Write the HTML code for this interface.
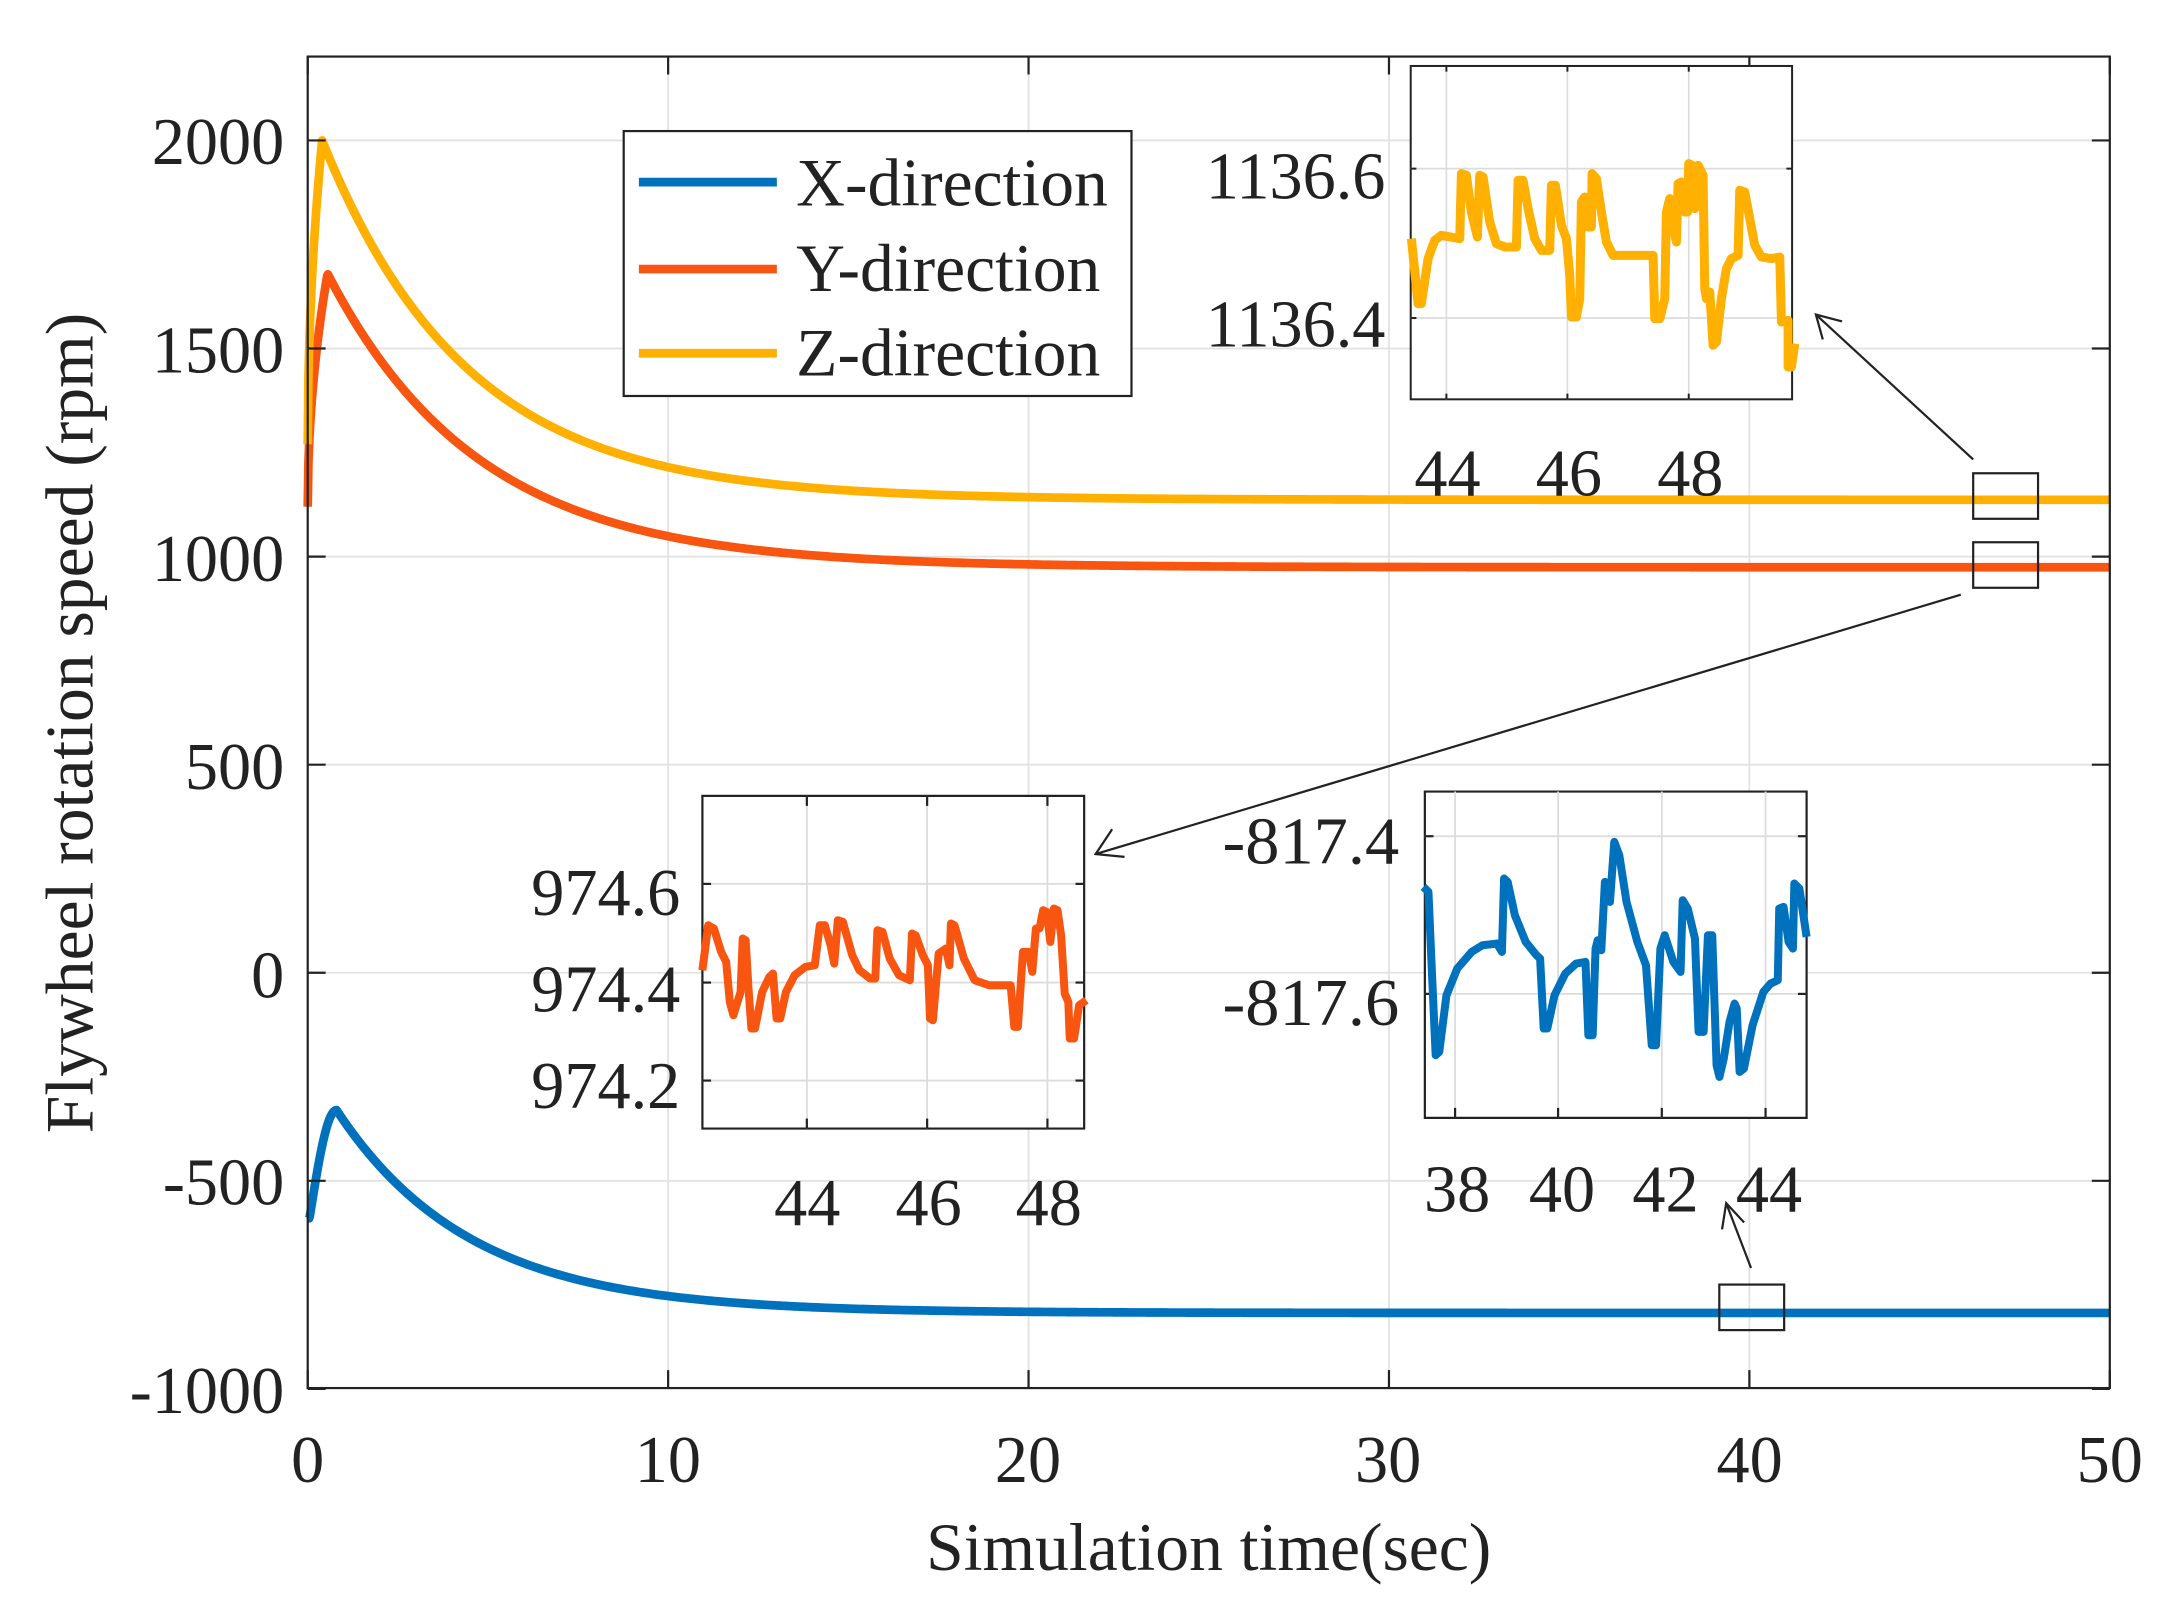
<!DOCTYPE html>
<html><head><meta charset="utf-8"><style>
html,body{margin:0;padding:0;background:#fff;}
svg{display:block;}
text{font-family:"Liberation Serif",serif;fill:#222;}
.ns{vector-effect:non-scaling-stroke;}
</style></head><body>
<svg width="2160" height="1608" viewBox="0 0 1556 1158.4" preserveAspectRatio="none" xmlns="http://www.w3.org/2000/svg">
<rect x="0" y="0" width="1556" height="1159" fill="#fff"/>
<g transform="translate(1,-1) scale(0.994)">
<g stroke="#e2e2e2" stroke-width="1.3" id="grid"></g>
<g id="curves" fill="none" stroke-width="6.3" stroke-linejoin="round"></g>
<rect x="222" y="42" width="1306" height="965" fill="none" stroke="#222" stroke-width="1.6"/>
<g id="ticks" stroke="#222" stroke-width="1.6"></g>
<g font-size="48" text-anchor="end">
<text x="205" y="120">2000</text><text x="205" y="271">1500</text><text x="205" y="422">1000</text>
<text x="205" y="573">500</text><text x="205" y="724">0</text><text x="205" y="874">-500</text><text x="205" y="1025">-1000</text>
</g>
<g font-size="48" text-anchor="middle">
<text x="222" y="1075">0</text><text x="483" y="1075">10</text><text x="744" y="1075">20</text>
<text x="1005" y="1075">30</text><text x="1267" y="1075">40</text><text x="1528" y="1075">50</text>
<text x="875" y="1139" font-size="49">Simulation time(sec)</text>
<text transform="translate(66,525) rotate(-90)" font-size="49">Flywheel rotation speed (rpm)</text>
</g>
<rect x="451" y="96" width="368" height="192" fill="#fff" stroke="#222" stroke-width="1.6"/>
<line x1="462" y1="133" x2="562" y2="133" stroke="#0072bd" stroke-width="6.3"/>
<line x1="462" y1="196" x2="562" y2="196" stroke="#f75510" stroke-width="6.3"/>
<line x1="462" y1="257" x2="562" y2="257" stroke="#ffb000" stroke-width="6.3"/>
<g font-size="49"><text x="576" y="150">X-direction</text><text x="576" y="212">Y-direction</text><text x="576" y="273">Z-direction</text></g>
<g fill="none" stroke="#222" stroke-width="1.6">
<rect x="1429" y="344" width="47" height="33"/><rect x="1429" y="394" width="47" height="33"/><rect x="1245" y="932" width="47" height="33"/>
<line x1="1429" y1="334" x2="1315" y2="229"/><polyline points="1320,247 1315,229 1334,234"/>
<line x1="1420" y1="432" x2="793" y2="620"/><polyline points="805,602 793,620 814,622"/>
<line x1="1268" y1="920" x2="1250" y2="873"/><polyline points="1247,892 1250,873 1263,887"/>
</g>
<g transform="translate(1014.6,43.5) scale(0.2416)">
<rect x="28" y="22" width="1144" height="1000" fill="#fff" stroke="#222" stroke-width="6"/>
<g stroke="#dcdcdc" stroke-width="5"><line x1="135" y1="22" x2="135" y2="1022"/><line x1="498" y1="22" x2="498" y2="1022"/><line x1="862" y1="22" x2="862" y2="1022"/><line x1="28" y1="330" x2="1172" y2="330"/><line x1="28" y1="778" x2="1172" y2="778"/></g>
<g stroke="#222" stroke-width="6"><line x1="135" y1="1022" x2="135" y2="1005"/><line x1="498" y1="1022" x2="498" y2="1005"/><line x1="862" y1="1022" x2="862" y2="1005"/><line x1="135" y1="22" x2="135" y2="39"/><line x1="498" y1="22" x2="498" y2="39"/><line x1="862" y1="22" x2="862" y2="39"/><line x1="28" y1="330" x2="45" y2="330"/><line x1="28" y1="778" x2="45" y2="778"/><line x1="1172" y1="330" x2="1155" y2="330"/><line x1="1172" y1="778" x2="1155" y2="778"/></g>
<polyline fill="none" stroke="#ffb000" stroke-width="27" stroke-linejoin="round" points="30,540 50,735 60,735 80,600 100,545 120,530 175,540 180,345 195,350 210,460 228,535 235,350 245,355 265,490 285,555 310,565 345,565 350,365 365,365 380,450 400,540 420,575 445,575 450,380 462,380 480,500 495,540 505,650 510,775 525,775 535,720 540,430 550,415 560,505 570,505 572,345 585,360 600,460 615,550 635,590 660,590 755,590 760,780 775,780 790,720 795,460 805,420 815,500 825,550 830,375 840,370 850,460 858,460 862,315 872,320 880,450 890,320 905,350 910,690 915,720 925,700 935,860 945,850 960,720 975,630 990,600 1010,590 1015,395 1030,400 1045,480 1060,560 1080,595 1110,600 1135,595 1140,790 1160,785 1160,925 1170,925 1180,855"/>
</g>
<g font-size="48"><text x="1003" y="145" text-anchor="end">1136.6</text><text x="1003" y="252" text-anchor="end">1136.4</text>
<text x="1048" y="360" text-anchor="middle">44</text><text x="1136" y="360" text-anchor="middle">46</text><text x="1224" y="360" text-anchor="middle">48</text></g>
<g transform="translate(507,572.5) scale(0.522,0.2416)">
<rect class="ns" x="2" y="22" width="530" height="998" fill="#fff" stroke="#222" stroke-width="2.2"/>
<g stroke="#dcdcdc" stroke-width="1.8"><line class="ns" x1="147" y1="22" x2="147" y2="1020"/><line class="ns" x1="314" y1="22" x2="314" y2="1020"/><line class="ns" x1="481" y1="22" x2="481" y2="1020"/><line class="ns" x1="2" y1="286" x2="532" y2="286"/><line class="ns" x1="2" y1="582" x2="532" y2="582"/><line class="ns" x1="2" y1="876" x2="532" y2="876"/></g>
<g stroke="#222" stroke-width="2.2"><line class="ns" x1="147" y1="1020" x2="147" y2="990"/><line class="ns" x1="314" y1="1020" x2="314" y2="990"/><line class="ns" x1="481" y1="1020" x2="481" y2="990"/><line class="ns" x1="147" y1="22" x2="147" y2="52"/><line class="ns" x1="314" y1="22" x2="314" y2="52"/><line class="ns" x1="481" y1="22" x2="481" y2="52"/><line class="ns" x1="532" y1="286" x2="520" y2="286"/><line class="ns" x1="532" y1="582" x2="520" y2="582"/><line class="ns" x1="532" y1="876" x2="520" y2="876"/><line class="ns" x1="2" y1="286" x2="14" y2="286"/><line class="ns" x1="2" y1="582" x2="14" y2="582"/><line class="ns" x1="2" y1="876" x2="14" y2="876"/></g>
<polyline class="ns" fill="none" stroke="#f75510" stroke-width="8" stroke-linejoin="round" points="2,545 10,410 18,420 28,490 35,520 40,640 45,680 55,610 58,450 62,455 66,600 70,720 75,720 85,610 95,565 100,555 105,690 110,690 118,610 130,560 145,535 158,530 165,410 172,410 180,470 185,525 190,395 197,400 210,500 220,545 235,570 242,570 245,425 252,430 262,510 275,560 290,575 293,435 298,440 308,500 315,530 318,690 322,695 330,495 340,480 345,530 347,405 352,410 365,510 380,575 400,590 430,590 435,715 440,715 447,490 455,490 460,550 465,420 470,420 475,365 480,370 485,460 490,360 495,365 500,440 505,615 510,640 512,750 518,750 525,650 535,635"/>
<rect class="ns" x="1005" y="9" width="530" height="979" fill="#fff" stroke="#222" stroke-width="2.2"/>
<g stroke="#dcdcdc" stroke-width="1.8"><line class="ns" x1="1047" y1="9" x2="1047" y2="988"/><line class="ns" x1="1190" y1="9" x2="1190" y2="988"/><line class="ns" x1="1334" y1="9" x2="1334" y2="988"/><line class="ns" x1="1478" y1="9" x2="1478" y2="988"/><line class="ns" x1="1005" y1="143" x2="1535" y2="143"/><line class="ns" x1="1005" y1="616" x2="1535" y2="616"/></g>
<g stroke="#222" stroke-width="2.2"><line class="ns" x1="1047" y1="988" x2="1047" y2="958"/><line class="ns" x1="1190" y1="988" x2="1190" y2="958"/><line class="ns" x1="1334" y1="988" x2="1334" y2="958"/><line class="ns" x1="1478" y1="988" x2="1478" y2="958"/><line class="ns" x1="1005" y1="143" x2="1017" y2="143"/><line class="ns" x1="1005" y1="616" x2="1017" y2="616"/><line class="ns" x1="1535" y1="143" x2="1523" y2="143"/><line class="ns" x1="1535" y1="616" x2="1523" y2="616"/></g>
<polyline class="ns" fill="none" stroke="#0072bd" stroke-width="8" stroke-linejoin="round" points="1003,295 1010,310 1015,560 1020,800 1025,790 1035,620 1050,540 1070,490 1085,470 1105,465 1112,490 1115,270 1120,280 1130,380 1145,460 1160,500 1165,510 1170,720 1175,720 1185,620 1200,555 1215,525 1228,520 1232,740 1238,740 1242,480 1245,455 1250,485 1255,280 1262,340 1268,160 1275,200 1285,340 1300,460 1312,530 1320,770 1326,770 1332,480 1338,440 1350,520 1360,550 1363,335 1370,360 1380,450 1385,730 1392,730 1398,440 1404,440 1410,830 1414,865 1420,810 1428,700 1435,645 1438,660 1442,850 1448,840 1460,710 1475,610 1485,585 1495,575 1497,360 1503,355 1510,460 1516,480 1518,285 1525,300 1535,445"/>
</g>
<g font-size="48">
<text x="492" y="664" text-anchor="end">974.6</text><text x="492" y="734" text-anchor="end">974.4</text><text x="492" y="804" text-anchor="end">974.2</text>
<text x="584" y="889" text-anchor="middle">44</text><text x="672" y="889" text-anchor="middle">46</text><text x="759" y="889" text-anchor="middle">48</text>
<text x="885" y="627" textLength="128" lengthAdjust="spacingAndGlyphs">-817.4</text><text x="885" y="744" textLength="128" lengthAdjust="spacingAndGlyphs">-817.6</text>
<text x="1055" y="879" text-anchor="middle">38</text><text x="1131" y="879" text-anchor="middle">40</text><text x="1206" y="879" text-anchor="middle">42</text><text x="1281" y="879" text-anchor="middle">44</text>
</g>
</g>
</svg>
<script>
(function(){
var NS="http://www.w3.org/2000/svg";
function el(p,n,a){var e=document.createElementNS(NS,n);for(var k in a)e.setAttribute(k,a[k]);p.appendChild(e);return e;}
var X=function(t){return 222+t*26.12;}, Y=function(v){return 706-v*0.3016;};
var g=document.getElementById('grid'), tk=document.getElementById('ticks'), cv=document.getElementById('curves');
for(var i=1;i<5;i++){el(g,'line',{x1:X(i*10),y1:42,x2:X(i*10),y2:1007});}
for(var v=-500;v<=2000;v+=500){el(g,'line',{x1:222,y1:Y(v),x2:1528,y2:Y(v)});}
for(var i=0;i<=5;i++){var x=X(i*10);el(tk,'line',{x1:x,y1:1007,x2:x,y2:994});el(tk,'line',{x1:x,y1:42,x2:x,y2:55});}
for(var v=-1000;v<=2000;v+=500){var y=Y(v);el(tk,'line',{x1:222,y1:y,x2:235,y2:y});el(tk,'line',{x1:1528,y1:y,x2:1515,y2:y});}
function f(fn,col){var d='';for(var t=0;t<=50.001;t+=(t<3?0.02:0.1)){d+=(d?'L':'M')+X(t).toFixed(2)+','+Y(fn(t)).toFixed(2);}el(cv,'path',{d:d,stroke:col});}
f(function(t){return t<0.8?-590+260*Math.sin(Math.PI/2*Math.max(0,t-0.05)/0.75):-817.5+487.5*Math.exp(-(t-0.8)/3.7);},'#0072bd');
f(function(t){return t<0.55?1120+560*Math.sqrt(t/0.55):974.4+705.6*Math.exp(-(t-0.55)/4.2);},'#f75510');
f(function(t){return t<0.4?1270+730*Math.sqrt(t/0.4):1136.5+863.5*Math.exp(-(t-0.4)/4);},'#ffb000');
})();
</script>
</body></html>
